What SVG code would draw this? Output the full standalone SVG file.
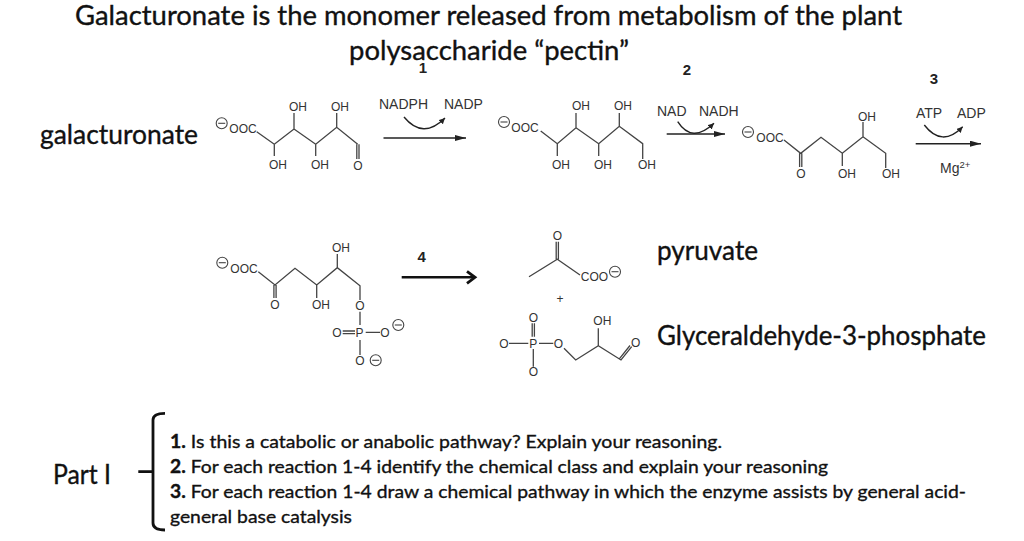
<svg xmlns="http://www.w3.org/2000/svg" width="1024" height="541" viewBox="0 0 1024 541">
<style>
text{fill:#111;font-family:"Lato","Open Sans",sans-serif}
.h,.l,.q{stroke:#111;stroke-width:.35px}
.h{font-size:27px}
.l{font-size:26px}
.q{font-size:18px}
.c{font-family:"Liberation Sans",Arial,sans-serif;font-size:12px;fill:#333;text-anchor:middle}
.s{font-family:"Liberation Sans",Arial,sans-serif;font-size:14px;fill:#333}
.n{font-family:"Liberation Sans",Arial,sans-serif;font-size:15px;font-weight:700;fill:#222;text-anchor:middle}
.b{fill:none;stroke:#444;stroke-width:1.3}
.a{fill:none;stroke:#222;stroke-width:1.4}
.m{fill:none;stroke:#444;stroke-width:1.1}
</style>
<defs>
<marker id="tri" markerWidth="12" markerHeight="8" refX="11" refY="3" orient="auto" markerUnits="userSpaceOnUse"><path d="M0 0L11 3L0 6Z" fill="#222"/></marker>
<marker id="small" markerWidth="8" markerHeight="8" refX="6" refY="3" orient="auto" markerUnits="userSpaceOnUse"><path d="M0 0L6 3L0 6Z" fill="#222"/></marker>
<marker id="open" markerWidth="14" markerHeight="16" refX="11" refY="7" orient="auto" markerUnits="userSpaceOnUse"><path d="M3 1L11 7L3 13" fill="none" stroke="#111" stroke-width="2.800"/></marker>
<g id="neg"><circle r="5.500" class="m"/><path d="M-3.500 0H3.500" class="m"/></g>
</defs>

<g id="title">
<text class="h" x="75" y="25" textLength="827" lengthAdjust="spacingAndGlyphs">Galacturonate is the monomer released from metabolism of the plant</text>
<text class="h" x="349" y="60" textLength="280" lengthAdjust="spacingAndGlyphs">polysaccharide “pectin”</text>
</g>

<g id="connectors">
<path class="a" d="M383.500 138H466" marker-end="url(#tri)"/>
<path class="a" d="M404 117Q423 140 445 118" marker-end="url(#small)"/>
<path class="a" d="M666.700 134H725" marker-end="url(#tri)"/>
<path class="a" d="M677.700 121.700Q692 144 714 123.300" marker-end="url(#small)"/>
<path class="a" d="M915.700 143.700H981" marker-end="url(#tri)"/>
<path class="a" d="M924.300 125Q942 148 962.700 126.700" marker-end="url(#small)"/>
<path fill="none" stroke="#111" stroke-width="2.500" d="M401.700 277.300H475" marker-end="url(#open)"/>
</g>

<g id="step-labels">
<text class="n" x="423" y="73">1</text>
<text class="n" x="687" y="75">2</text>
<text class="n" x="934" y="84">3</text>
<text class="n" x="421.700" y="262">4</text>
</g>

<g id="cofactors">
<text class="s" x="379" y="109">NADPH</text>
<text class="s" x="444" y="109">NADP</text>
<text class="s" x="657" y="116">NAD</text>
<text class="s" x="699" y="116">NADH</text>
<text class="s" x="916" y="118">ATP</text>
<text class="s" x="957" y="118">ADP</text>
<text class="s" x="940" y="173">Mg<tspan dy="-5" font-size="9.500">2+</tspan></text>
</g>

<g id="galacturonate">
<text class="l" x="40" y="144" textLength="158" lengthAdjust="spacingAndGlyphs">galacturonate</text>
<use href="#neg" x="221.700" y="123.300"/>
<text class="c" x="243" y="133">OOC</text>
<path class="b" d="M256.700 131.700L274.300 144.300L294 129L315.700 144.300L336.700 127.300L357.700 144.300M274.300 144.300V156M294 129V113M315.700 144.300V156M336.700 127.300V113M356.800 144.300V159M359 144.300V159"/>
<text class="c" x="298" y="111">OH</text>
<text class="c" x="340" y="111">OH</text>
<text class="c" x="278" y="169">OH</text>
<text class="c" x="320" y="169">OH</text>
<text class="c" x="358" y="170">O</text>
</g>

<g id="galactonate">
<use href="#neg" x="504" y="122"/>
<text class="c" x="525" y="132">OOC</text>
<path class="b" d="M540.700 131L557.300 143.700L576 127.700L598.700 143.700L619.300 126.300L642.700 143.700V159M557.300 143.700V156M576 127.700V113M598.700 143.700V156M619.300 126.300V113"/>
<text class="c" x="581" y="110">OH</text>
<text class="c" x="623" y="110">OH</text>
<text class="c" x="561" y="169">OH</text>
<text class="c" x="603" y="169">OH</text>
<text class="c" x="647" y="169">OH</text>
</g>

<g id="keto-acid">
<use href="#neg" x="748" y="132"/>
<text class="c" x="770" y="142">OOC</text>
<path class="b" d="M784 140L800.700 153.300L821 137.300L842.300 153.300L863 136.700L885.700 153.300V168M799.600 153.300V167M801.800 153.300V167M842.300 153.300V166M863 136.700V122"/>
<text class="c" x="867" y="121">OH</text>
<text class="c" x="847" y="178">OH</text>
<text class="c" x="891" y="178">OH</text>
<text class="c" x="801" y="178">O</text>
</g>

<g id="phosphate-intermediate">
<use href="#neg" x="222.300" y="262.700"/>
<text class="c" x="244" y="273">OOC</text>
<path class="b" d="M258.300 271.700L275 285L295 268.300L316.700 285L337.300 267.700L360 285.700V300M273.900 285V298M276.100 285V298M316.700 285V298M337.300 267.700V254"/>
<path class="b" d="M360 311.700V325M342.700 331H355M342.700 333.600H355M365.700 332.300H380M360 340V355"/>
<text class="c" x="341" y="252">OH</text>
<text class="c" x="321" y="309">OH</text>
<text class="c" x="275" y="309">O</text>
<text class="c" x="360" y="310">O</text>
<text class="c" x="337" y="336.500">O</text>
<text class="c" x="359.500" y="336.500">P</text>
<text class="c" x="385" y="336.500">O</text>
<text class="c" x="360" y="365">O</text>
<use href="#neg" x="398.300" y="325"/>
<use href="#neg" x="375.700" y="360.300"/>
</g>

<g id="pyruvate">
<text class="c" x="557.300" y="240">O</text>
<path class="b" d="M556.200 241.700V259.300M558.400 241.700V259.300M529 276.700L557.300 259.300L580 275"/>
<text class="c" x="594.500" y="281">COO</text>
<use href="#neg" x="615" y="271.700"/>
<text class="l" x="657" y="260" textLength="101" lengthAdjust="spacingAndGlyphs">pyruvate</text>
</g>

<g id="plus"><text class="c" x="560" y="303">+</text></g>

<g id="glyceraldehyde-3-phosphate">
<text class="c" x="504" y="347.500">O</text>
<text class="c" x="533.300" y="347.500">P</text>
<text class="c" x="533.300" y="322">O</text>
<text class="c" x="533.300" y="376">O</text>
<text class="c" x="558.300" y="347.500">O</text>
<path class="b" d="M509 343.300H528.300M539 343.300H553.300M532.200 323.300V336.700M534.400 323.300V336.700M533.300 349V366.700M564 348.300L575.700 360L598.300 345.700L621 360L631.700 346.700M619.300 358.800L630 345.500M598.300 345.700V328.300"/>
<text class="c" x="635.700" y="347">O</text>
<text class="c" x="602.300" y="325">OH</text>
<text class="l" x="657" y="345" textLength="329" lengthAdjust="spacingAndGlyphs">Glyceraldehyde-3-phosphate</text>
</g>

<g id="part-i">
<text class="l" x="53" y="484" textLength="58" lengthAdjust="spacingAndGlyphs">Part I</text>
<path fill="none" stroke="#111" stroke-width="2.800" d="M165 413.300Q153 413.300 153 420V523Q153 530 165 530M138.300 471.700H153"/>
<text class="q" x="170" y="448" textLength="552" lengthAdjust="spacingAndGlyphs"><tspan font-weight="700">1.</tspan> Is this a catabolic or anabolic pathway? Explain your reasoning.</text>
<text class="q" x="170" y="473" textLength="658" lengthAdjust="spacingAndGlyphs"><tspan font-weight="700">2.</tspan> For each reaction 1-4 identify the chemical class and explain your reasoning</text>
<text class="q" x="170" y="498" textLength="796" lengthAdjust="spacingAndGlyphs"><tspan font-weight="700">3.</tspan> For each reaction 1-4 draw a chemical pathway in which the enzyme assists by general acid-</text>
<text class="q" x="170" y="523" textLength="182" lengthAdjust="spacingAndGlyphs">general base catalysis</text>
</g>
</svg>
